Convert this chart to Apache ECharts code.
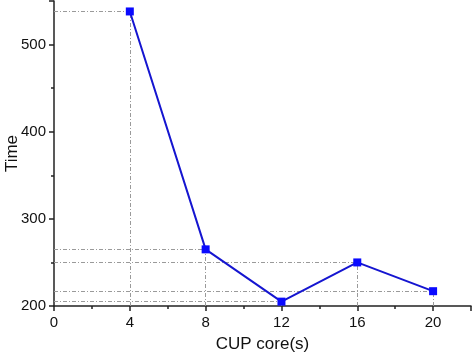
<!DOCTYPE html>
<html><head><meta charset="utf-8">
<script src="https://cdn.jsdelivr.net/npm/echarts@6/dist/echarts.min.js"></script>
<style>html,body{margin:0;padding:0;background:#fff}#c{width:474px;height:355px}</style>
</head><body><div id="c"></div>
<script>
const cores = [4, 8, 12, 16, 20];
const times = [538, 265, 205, 250, 217];
const xTicks = [0, 4, 8, 12, 16, 20];
const yTicks = [200, 300, 400, 500];

const chart = echarts.init(document.getElementById('c'), null, {renderer: 'canvas'});
const pts = cores.map((c, i) => [c, times[i]]);
const guide = {color: '#9a9a9a', width: 1, type: [4, 2, 1, 2]};
const mlData = [];
pts.forEach(p => {
  mlData.push([{coord: [0, p[1]]}, {coord: [p[0], p[1]]}]);
  mlData.push([{coord: [p[0], 200]}, {coord: [p[0], p[1]]}]);
});
const axisCol = '#222';
chart.setOption({
  animation: false,
  grid: {left: 54, right: 3, top: 1, bottom: 49, containLabel: false, outerBoundsMode: 'none'},
  xAxis: {
    type: 'value', min: 0, max: 22, interval: 4,
    name: 'CUP core(s)', nameLocation: 'middle', nameGap: 30, nameMoveOverlap: false,
    nameTextStyle: {fontFamily: 'Liberation Sans', fontSize: 17, color: '#111', padding: [0, 0, 0, 0]},
    axisLine: {show: true, lineStyle: {color: axisCol, width: 1.5}},
    axisTick: {show: true, inside: false, length: 5, lineStyle: {color: axisCol, width: 1.5}},
    minorTick: {show: true, splitNumber: 2, length: 3, lineStyle: {color: axisCol, width: 1.5}},
    axisLabel: {fontFamily: 'Liberation Sans', fontSize: 15, color: '#111', margin: 9,
      formatter: v => xTicks.includes(v) ? String(v) : ''},
    splitLine: {show: false}
  },
  yAxis: {
    type: 'value', min: 200, max: 550, interval: 100,
    name: 'Time', nameLocation: 'middle', nameGap: 33, nameRotate: 90, nameMoveOverlap: false,
    nameTextStyle: {fontFamily: 'Liberation Sans', fontSize: 17, color: '#111'},
    axisLine: {show: true, lineStyle: {color: axisCol, width: 1.5}},
    axisTick: {show: true, inside: false, length: 5, lineStyle: {color: axisCol, width: 1.5}},
    minorTick: {show: true, splitNumber: 2, length: 3, lineStyle: {color: axisCol, width: 1.5}},
    axisLabel: {fontFamily: 'Liberation Sans', fontSize: 15, color: '#111', margin: 8,
      formatter: v => yTicks.includes(v) ? String(v) : ''},
    splitLine: {show: false}
  },
  series: [{
    type: 'line', data: pts,
    symbol: 'rect', symbolSize: 8,
    lineStyle: {color: '#1515d0', width: 2},
    itemStyle: {color: '#0a0aff'},
    z: 5,
    markLine: {silent: true, symbol: 'none', label: {show: false}, lineStyle: guide, data: mlData, z: 1}
  }]
});
</script></body></html>
